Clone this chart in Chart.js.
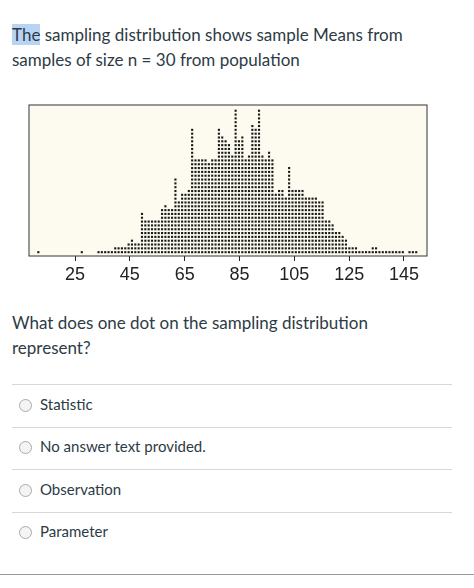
<!DOCTYPE html>
<html><head><meta charset="utf-8">
<script src="https://cdn.jsdelivr.net/npm/chart.js@4"></script>
<style>
body{margin:0;background:#fff;font-family:Lato,sans-serif;color:#2d3b45;width:474px;height:588px;position:relative;overflow:hidden}
.t{position:absolute;left:12px;font-size:17px;line-height:25px}
.hl{background:#b8d4f5}
.sep{position:absolute;left:12px;width:440px;border-top:1px solid #d8d8d8}
.opt{position:absolute;left:40px;font-size:15px}
.rad{position:absolute;left:19px;width:11px;height:11px;border:1px solid #aaa;border-radius:50%;background:#f4f4f4}
#wrap{position:absolute;left:0;top:95px;width:474px;height:200px}
</style></head><body>
<div class="t" style="top:22px"><span class="hl">The</span> sampling distribution shows sample Means from<br>samples of size n = 30 from population</div>
<div id="wrap"><canvas id="grafico1"></canvas></div>
<div class="t" style="top:310px">What does one dot on the sampling distribution<br>represent?</div>
<div class="sep" style="top:384px"></div>
<div class="rad" style="top:399px"></div><div class="opt" style="top:395px">Statistic</div>
<div class="sep" style="top:427px"></div>
<div class="rad" style="top:441px"></div><div class="opt" style="top:437px">No answer text provided.</div>
<div class="sep" style="top:469px"></div>
<div class="rad" style="top:484px"></div><div class="opt" style="top:480px">Observation</div>
<div class="sep" style="top:512px"></div>
<div class="rad" style="top:526px"></div><div class="opt" style="top:522px">Parameter</div>
<div class="sep" style="top:574px;left:0;width:474px;border-color:#999"></div>
<script>
// primeira coluna e largura das colunas (medias amostrais)
const inicio = 11.6;
const passo = 1.22;
// quantidade de pontos em cada coluna
const contagens = [1,0,0,0,0,0,0,0,0,0,0,0,0,1,0,0,0,0,
  1,1,1,1,1, 2,2,2,2, 3,4,3,3, 11, 9,9,9,9,9, 12,13,12,12, 20, 14,16,16,17, 33,
  25,25,25,25,24,25,25, 33, 31,30,29,26, 38, 30,31, 25,26, 34,33,38, 26,25, 27,25,16,
  17,17,15,23, 17,17,17,17, 15,15,15,15,14,14, 9,9,8, 6,6,5,4, 2,2,2, 1,1,1,1,
  2,2,1, 1,1,1,1,1,1,1, 0, 1,1,1];
const ticksX = [25,45,65,85,105,125,145];

let pontos = [];
for (let i = 0; i < contagens.length; i++) {
  for (let k = 1; k <= contagens[i]; k++) pontos.push({x: inicio + i * passo, y: k});
}

const fundo = {
  id: 'fundo',
  beforeDraw(c) {
    const a = c.chartArea, g = c.ctx;
    g.save(); g.fillStyle = '#fdfbf0'; g.fillRect(a.left, a.top, a.width, a.height); g.restore();
  },
  afterDraw(c) {
    const a = c.chartArea, g = c.ctx;
    g.save(); g.strokeStyle = '#333'; g.lineWidth = 1; g.strokeRect(a.left, a.top, a.width, a.height); g.restore();
  }
};

new Chart(document.getElementById('grafico1'), {
  type: 'scatter',
  data: { datasets: [{ data: pontos, pointStyle: 'rect', pointRadius: 1.5, backgroundColor: '#1a1a1a', borderWidth: 0 }] },
  options: {
    responsive: true, maintainAspectRatio: false, animation: false,
    layout: { padding: { left: 29, right: 47, top: 10, bottom: 0 } },
    plugins: { legend: { display: false }, tooltip: { enabled: false } },
    scales: {
      x: {
        type: 'linear', min: 8.2, max: 153.4,
        afterBuildTicks: ax => { ax.ticks = ticksX.map(v => ({ value: v })); },
        afterFit: ax => { ax.height = 39; },
        grid: { drawOnChartArea: false, tickLength: 5, tickColor: '#222' },
        border: { display: false },
        ticks: { color: '#222', font: { size: 18, family: 'Liberation Sans' }, padding: 3, maxRotation: 0 }
      },
      y: { display: false, min: 0, max: 39.5 }
    }
  },
  plugins: [fundo]
});
</script>
</body></html>
